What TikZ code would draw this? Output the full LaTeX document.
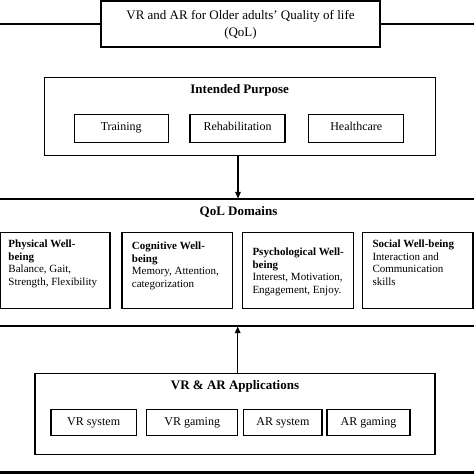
\documentclass[tikz,border=0pt]{standalone}
\usepackage{fontspec}
\setmainfont{Liberation Serif}
\usetikzlibrary{arrows.meta}
\begin{document}
\begin{tikzpicture}[x=1pt,y=-1pt,
  box/.style={draw, line width=1.05pt, inner sep=0pt, align=center},
  ttl/.style={font=\fontsize{13}{16.5}\selectfont, inner sep=0pt, align=center},
  hdr/.style={font=\bfseries\fontsize{13}{16}\selectfont, inner sep=0pt},
  sub/.style={box, font=\fontsize{12}{14}\selectfont, text height=8.5pt, text depth=3pt},
  dom/.style={anchor=north west, inner sep=0pt, align=left, font=\fontsize{11}{12.8}\selectfont},
  arr/.style={line width=1.05pt, -{Triangle[length=6.5pt,width=5.5pt]}},
  ln/.style={line width=1.05pt}]
\clip (0,0) rectangle (474,474);
% title
\node[box, minimum width=279pt, minimum height=46pt] (title) at (240.5,24) {};
\node[ttl] (titletext) at (240.5,25) {VR and AR for Older adults’ Quality of life\\(QoL)};
\coordinate (le) at (0,24);
\coordinate (re) at (474,24);
\draw[ln] (le) -- (title.west);
\draw[ln] (title.east) -- (re);
% intended purpose
\node[box, minimum width=390.7pt, minimum height=77.7pt] (ip) at (239.7,116.2) {};
\node[hdr] (iptitle) at (239.7,90) {Intended Purpose};
\node[sub, minimum width=94.3pt, minimum height=27.7pt] (train) at (121.2,128.2) {Training};
\node[sub, minimum width=95pt, minimum height=27.7pt] (rehab) at (237.5,128.2) {Rehabilitation};
\node[sub, minimum width=95.3pt, minimum height=27.7pt] (health) at (356.3,128.2) {Healthcare};
% QoL domains region
\node[box, minimum width=490pt, minimum height=127pt] (qol) at (237,262.5) {};
\node[hdr] (qoltitle) at (238.5,212.3) {QoL Domains};
\draw[arr] ([xshift=-1.7pt]ip.south) -- ([xshift=-1.7pt]ip.south |- qol.north);
\node[box, minimum width=109.5pt, minimum height=76pt] (phys) at (55.25,270.3) {};
\node[box, minimum width=110.7pt, minimum height=76pt] (cogn) at (177.35,270.3) {};
\node[box, minimum width=111pt, minimum height=76pt] (psych) at (297.8,270.3) {};
\node[box, minimum width=110.7pt, minimum height=76pt] (soc) at (417.65,270.3) {};
\node[dom] (physt) at (8.3,239.5) {\textbf{Physical Well-}\\\textbf{being}\\Balance, Gait,\\Strength, Flexibility};
\node[dom] (cognt) at (131.7,241.5) {\textbf{Cognitive Well-}\\\textbf{being}\\Memory, Attention,\\categorization};
\node[dom] (psycht) at (252.3,247.5) {\textbf{Psychological Well-}\\\textbf{being}\\Interest, Motivation,\\Engagement, Enjoy.};
\node[dom] (soct) at (372.3,239.5) {\textbf{Social Well-being}\\Interaction and\\Communication\\skills};
% applications
\node[box, minimum width=400pt, minimum height=80.7pt] (app) at (235,413.7) {};
\node[hdr] (apptitle) at (235,386.7) {VR \& AR Applications};
\draw[arr] ([xshift=2.7pt]app.north) -- ([xshift=2.7pt]app.north |- qol.south);
\node[sub, minimum width=85.3pt, minimum height=26.4pt] (vrs) at (93.65,422.5) {VR system};
\node[sub, minimum width=91pt, minimum height=26.4pt] (vrg) at (192.2,422.5) {VR gaming};
\node[sub, minimum width=78.3pt, minimum height=26.4pt] (ars) at (282.85,422.5) {AR system};
\node[sub, minimum width=83pt, minimum height=26.4pt] (arg) at (368.5,422.5) {AR gaming};
% bottom bar
\node[fill=black, inner sep=0pt, minimum width=490pt, minimum height=6pt] (bar) at (237,473.7) {};
\end{tikzpicture}
\end{document}
